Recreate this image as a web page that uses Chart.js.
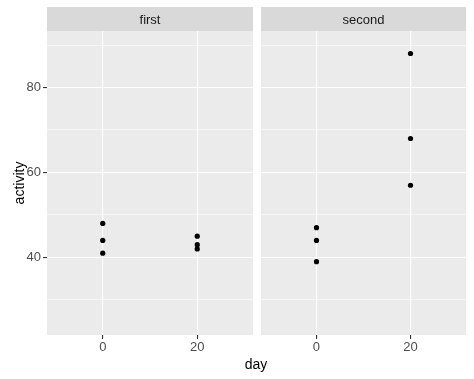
<!DOCTYPE html>
<html><head><meta charset="utf-8">
<script src="https://cdn.jsdelivr.net/npm/chart.js@4"></script>
<style>
html,body{margin:0;padding:0;background:#fff;width:474px;height:379px;overflow:hidden}
.c{position:absolute;top:0;height:379px}
#day{position:absolute;left:206px;width:100px;top:356px;text-align:center;font:14px "Liberation Sans",Arial,sans-serif;line-height:17px;color:#000}
</style></head><body>
<div class="c" style="left:0;width:253px"><canvas id="c1"></canvas></div>
<div class="c" style="left:261px;width:205px"><canvas id="c2"></canvas></div>
<div id="day">day</div>
<script>
const panelNames = ['first', 'second'];
const dayFirst = [0, 0, 0, 20, 20, 20];
const activityFirst = [48, 44, 41, 45, 43, 42];
const daySecond = [0, 0, 0, 20, 20, 20];
const activitySecond = [47, 44, 39, 88, 68, 57];
const yGridValues = [30, 40, 50, 60, 70, 80, 90];
const yTickLabels = [40, 60, 80];
const xTickValues = [0, 20];
const yLimits = [21.75, 93.3];
const xLimits = [-11.8, 31.8];

const FONT = '"Liberation Sans", Arial, sans-serif';

const stripPlugin = {
  id: 'strip',
  beforeDraw(chart, args, opts) {
    const {ctx, chartArea: a} = chart;
    ctx.save();
    ctx.fillStyle = '#EBEBEB';
    ctx.fillRect(a.left, a.top, a.right - a.left, a.bottom - a.top);
    ctx.fillStyle = '#D9D9D9';
    ctx.fillRect(a.left, 7, a.right - a.left, 24);
    ctx.fillStyle = '#1A1A1A';
    ctx.font = '13px ' + FONT;
    ctx.textAlign = 'center';
    ctx.textBaseline = 'middle';
    ctx.fillText(opts.text, (a.left + a.right) / 2, 20);
    ctx.restore();
  }
};

function makeChart(id, name, xs, ys, showY) {
  const pts = xs.map((x, i) => ({x: x, y: ys[i]}));
  return new Chart(document.getElementById(id), {
    type: 'scatter',
    data: {datasets: [{data: pts, backgroundColor: '#000', borderColor: '#000', pointRadius: 2.6, pointHoverRadius: 2.6, borderWidth: 0}]},
    plugins: [stripPlugin],
    options: {
      responsive: true, maintainAspectRatio: false, animation: false,
      layout: {autoPadding: false, padding: {top: 31, left: 0, right: 0, bottom: 0}},
      plugins: {legend: {display: false}, tooltip: {enabled: false}, strip: {text: name}},
      scales: {
        x: {
          type: 'linear', min: xLimits[0], max: xLimits[1],
          afterBuildTicks: s => { s.ticks = xTickValues.map(v => ({value: v})); },
          afterFit: s => { s.height = 44; },
          border: {display: false},
          grid: {color: '#FFFFFF', lineWidth: 1.1, tickColor: '#333333', tickLength: 4, drawTicks: true},
          ticks: {color: '#4D4D4D', font: {size: 13, family: FONT}, padding: 1, maxRotation: 0, autoSkip: false}
        },
        y: {
          type: 'linear', min: yLimits[0], max: yLimits[1],
          afterBuildTicks: s => { s.ticks = yGridValues.map(v => ({value: v})); },
          afterFit: s => { s.width = showY ? 47 : 0; },
          border: {display: false},
          grid: {
            color: '#FFFFFF',
            lineWidth: c => (c.tick && yTickLabels.includes(c.tick.value)) ? 1.1 : 0.55,
            tickColor: c => (c.tick && yTickLabels.includes(c.tick.value)) ? '#333333' : 'rgba(0,0,0,0)',
            tickLength: 4, drawTicks: showY
          },
          ticks: {
            display: showY, color: '#4D4D4D', font: {size: 13, family: FONT}, padding: 2, autoSkip: false,
            callback: v => yTickLabels.includes(v) ? String(v) : ''
          },
          title: {display: showY, text: 'activity', color: '#000', font: {size: 14, family: FONT}, padding: {top: 11.5, bottom: 0}}
        }
      }
    }
  });
}

makeChart('c1', panelNames[0], dayFirst, activityFirst, true);
makeChart('c2', panelNames[1], daySecond, activitySecond, false);
</script>
</body></html>
